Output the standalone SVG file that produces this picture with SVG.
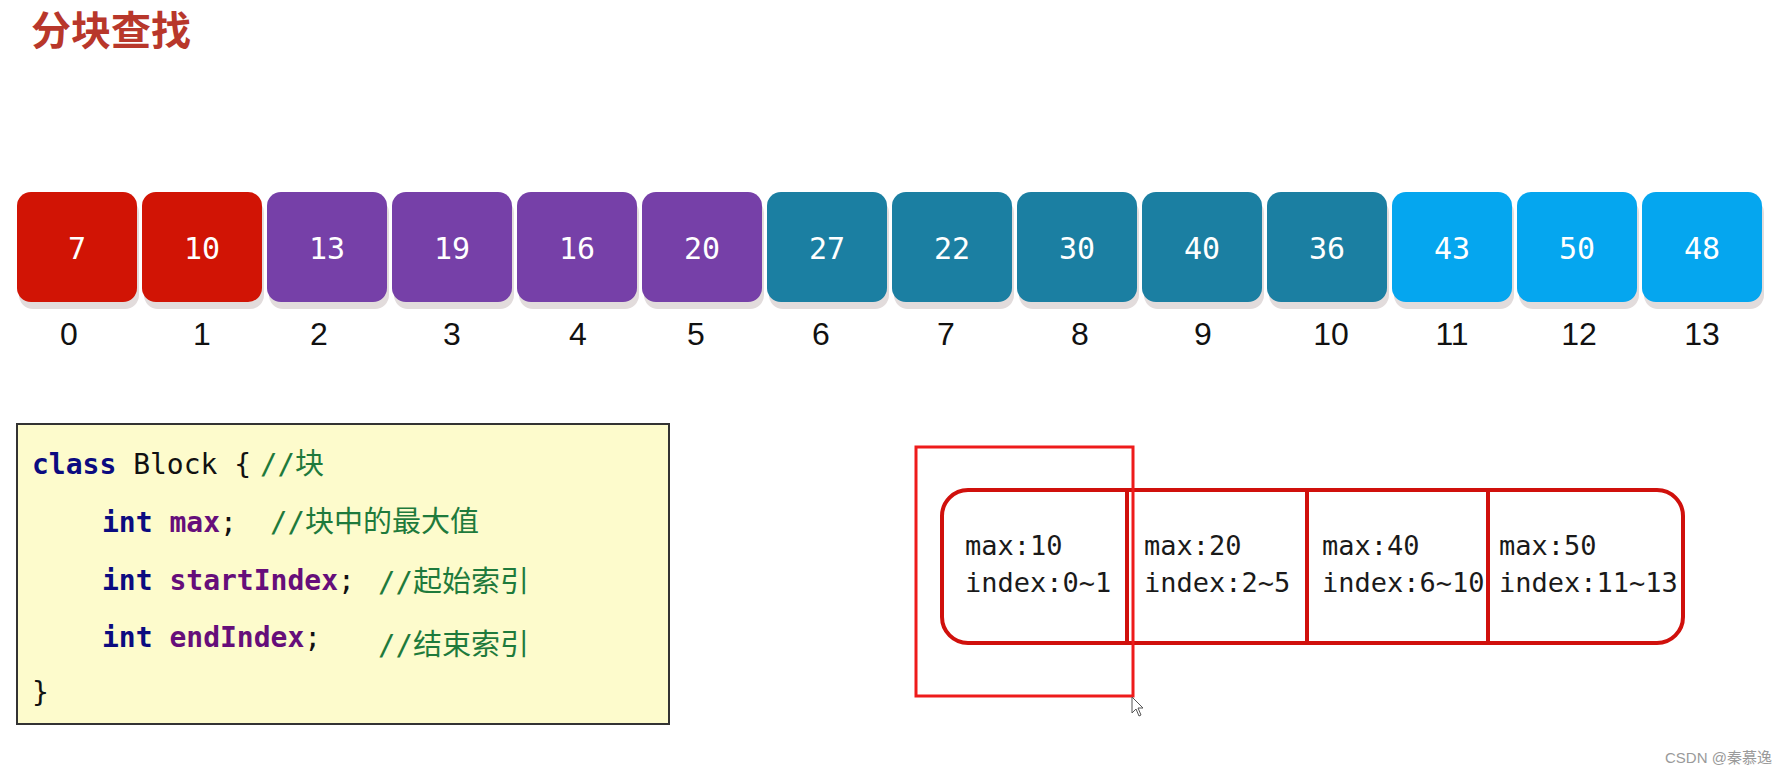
<svg xmlns="http://www.w3.org/2000/svg" width="1779" height="775" viewBox="0 0 1779 775">
<style>
.title{font-family:"Noto Sans CJK SC",sans-serif;font-weight:bold;font-size:40px;fill:#b8372b}
.cell{stroke:none}
.shadow{fill:#e2dcdc}
.num{font-family:"DejaVu Sans Mono",monospace;font-size:30px;fill:#ffffff;text-anchor:middle}
.idx{font-family:"Liberation Sans",sans-serif;font-size:32px;fill:#111;text-anchor:middle}
.red{fill:#d11405}
.pur{fill:#7640a8}
.teal{fill:#1b7fa2}
.blue{fill:#05a6ef}
.code{font-family:"DejaVu Sans Mono","Noto Sans CJK SC",monospace;font-size:28px}
.kw{fill:#0b0b80;font-weight:bold}
.fld{fill:#660e7a;font-weight:bold}
.plain{fill:#111}
.cmt{fill:#1e7a3c;font-size:29px}
.blk{font-family:"DejaVu Sans Mono",monospace;font-size:27px;fill:#1a1a1a}
.wm{font-family:"Liberation Sans","Noto Sans CJK SC",sans-serif;font-size:15px;fill:#9a9a9a}
</style>
<rect width="1779" height="775" fill="#ffffff"/>
<text class="title" x="31" y="45">分块查找</text>

<g id="array">
<g id="cell0"><rect class="shadow" x="19" y="199" width="120" height="110" rx="14"/><rect class="cell red" x="17" y="192" width="120" height="110" rx="14"/><text class="num" x="77" y="259">7</text><text class="idx" x="69" y="345">0</text></g>
<g id="cell1"><rect class="shadow" x="144" y="199" width="120" height="110" rx="14"/><rect class="cell red" x="142" y="192" width="120" height="110" rx="14"/><text class="num" x="202" y="259">10</text><text class="idx" x="202" y="345">1</text></g>
<g id="cell2"><rect class="shadow" x="269" y="199" width="120" height="110" rx="14"/><rect class="cell pur" x="267" y="192" width="120" height="110" rx="14"/><text class="num" x="327" y="259">13</text><text class="idx" x="319" y="345">2</text></g>
<g id="cell3"><rect class="shadow" x="394" y="199" width="120" height="110" rx="14"/><rect class="cell pur" x="392" y="192" width="120" height="110" rx="14"/><text class="num" x="452" y="259">19</text><text class="idx" x="452" y="345">3</text></g>
<g id="cell4"><rect class="shadow" x="519" y="199" width="120" height="110" rx="14"/><rect class="cell pur" x="517" y="192" width="120" height="110" rx="14"/><text class="num" x="577" y="259">16</text><text class="idx" x="578" y="345">4</text></g>
<g id="cell5"><rect class="shadow" x="644" y="199" width="120" height="110" rx="14"/><rect class="cell pur" x="642" y="192" width="120" height="110" rx="14"/><text class="num" x="702" y="259">20</text><text class="idx" x="696" y="345">5</text></g>
<g id="cell6"><rect class="shadow" x="769" y="199" width="120" height="110" rx="14"/><rect class="cell teal" x="767" y="192" width="120" height="110" rx="14"/><text class="num" x="827" y="259">27</text><text class="idx" x="821" y="345">6</text></g>
<g id="cell7"><rect class="shadow" x="894" y="199" width="120" height="110" rx="14"/><rect class="cell teal" x="892" y="192" width="120" height="110" rx="14"/><text class="num" x="952" y="259">22</text><text class="idx" x="946" y="345">7</text></g>
<g id="cell8"><rect class="shadow" x="1019" y="199" width="120" height="110" rx="14"/><rect class="cell teal" x="1017" y="192" width="120" height="110" rx="14"/><text class="num" x="1077" y="259">30</text><text class="idx" x="1080" y="345">8</text></g>
<g id="cell9"><rect class="shadow" x="1144" y="199" width="120" height="110" rx="14"/><rect class="cell teal" x="1142" y="192" width="120" height="110" rx="14"/><text class="num" x="1202" y="259">40</text><text class="idx" x="1203" y="345">9</text></g>
<g id="cell10"><rect class="shadow" x="1269" y="199" width="120" height="110" rx="14"/><rect class="cell teal" x="1267" y="192" width="120" height="110" rx="14"/><text class="num" x="1327" y="259">36</text><text class="idx" x="1331" y="345">10</text></g>
<g id="cell11"><rect class="shadow" x="1394" y="199" width="120" height="110" rx="14"/><rect class="cell blue" x="1392" y="192" width="120" height="110" rx="14"/><text class="num" x="1452" y="259">43</text><text class="idx" x="1452" y="345">11</text></g>
<g id="cell12"><rect class="shadow" x="1519" y="199" width="120" height="110" rx="14"/><rect class="cell blue" x="1517" y="192" width="120" height="110" rx="14"/><text class="num" x="1577" y="259">50</text><text class="idx" x="1579" y="345">12</text></g>
<g id="cell13"><rect class="shadow" x="1644" y="199" width="120" height="110" rx="14"/><rect class="cell blue" x="1642" y="192" width="120" height="110" rx="14"/><text class="num" x="1702" y="259">48</text><text class="idx" x="1702" y="345">13</text></g>
</g>

<g id="codebox">
<rect x="17" y="424" width="652" height="300" fill="#fdfbcc" stroke="#333" stroke-width="2"/>
<text class="code" x="32" y="474"><tspan class="kw">class</tspan><tspan class="plain"> Block {</tspan></text>
<text class="code cmt" x="260" y="474">//块</text>
<text class="code" x="102" y="532"><tspan class="kw">int</tspan><tspan class="plain"> </tspan><tspan class="fld">max</tspan><tspan class="plain">;</tspan></text>
<text class="code cmt" x="270" y="532">//块中的最大值</text>
<text class="code" x="102" y="590"><tspan class="kw">int</tspan><tspan class="plain"> </tspan><tspan class="fld">startIndex</tspan><tspan class="plain">;</tspan></text>
<text class="code cmt" x="378" y="592">//起始索引</text>
<text class="code" x="102" y="647"><tspan class="kw">int</tspan><tspan class="plain"> </tspan><tspan class="fld">endIndex</tspan><tspan class="plain">;</tspan></text>
<text class="code cmt" x="378" y="655">//结束索引</text>
<text class="code plain" x="32" y="702">}</text>
</g>

<g id="blocks">
<rect x="942" y="490" width="741" height="153" rx="26" fill="none" stroke="#d0100c" stroke-width="4"/>
<g stroke="#d0100c" stroke-width="4">
<line x1="1127" y1="490" x2="1127" y2="643"/>
<line x1="1307" y1="490" x2="1307" y2="643"/>
<line x1="1488" y1="490" x2="1488" y2="643"/>
</g>
<g id="b0"><text class="blk" x="965" y="555">max:10</text><text class="blk" x="965" y="592">index:0~1</text></g>
<g id="b1"><text class="blk" x="1144" y="555">max:20</text><text class="blk" x="1144" y="592">index:2~5</text></g>
<g id="b2"><text class="blk" x="1322" y="555">max:40</text><text class="blk" x="1322" y="592">index:6~10</text></g>
<g id="b3"><text class="blk" x="1499" y="555">max:50</text><text class="blk" x="1499" y="592">index:11~13</text></g>
</g>

<g id="highlight">
<rect x="916" y="447" width="217" height="249" fill="none" stroke="#ee1b1b" stroke-width="3"/>
</g>

<g id="cursor">
<path d="M1132,697 L1132,713 L1136,709 L1139,716 L1141,715 L1138,708 L1143,708 Z" fill="#fff" stroke="#555" stroke-width="1"/>
</g>

<text class="wm" x="1665" y="763">CSDN @秦慕逸</text>
</svg>
